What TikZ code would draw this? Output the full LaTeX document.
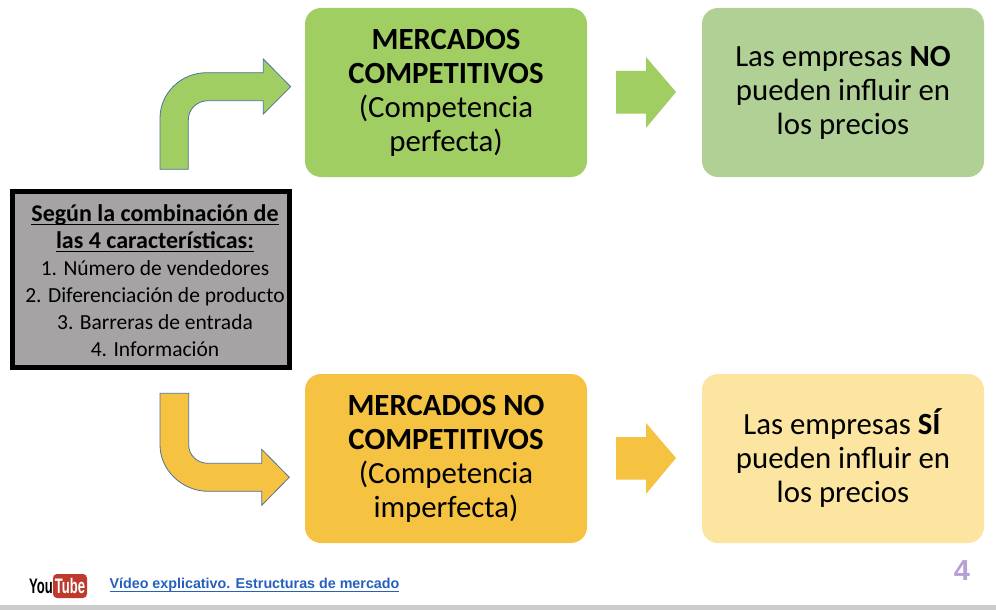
\documentclass[tikz,border=0pt]{standalone}
\usepackage{fontspec}
\setmainfont{Carlito}
\newfontfamily\linkfont{Liberation Sans}
\definecolor{greenbox}{HTML}{A1CE62}
\definecolor{palegreen}{HTML}{B0D095}
\definecolor{yellowbox}{HTML}{F5C242}
\definecolor{paleyellow}{HTML}{FBE5A0}
\definecolor{greybox}{HTML}{A5A3A4}
\definecolor{arrowedge}{HTML}{4F7299}
\definecolor{linkblue}{HTML}{2560BE}
\definecolor{tubered}{HTML}{BE3A2E}
\definecolor{pagenum}{HTML}{B9A0D4}
\def\listhead{\fontsize{24}{27}\selectfont\bfseries}
\def\lowline#1{\underline{\smash{#1}\vrule width 0pt height 0.75em depth 1.5pt}}
\tikzset{
  panel/.style={minimum width=282pt,minimum height=169pt,rounded corners=16pt,align=center,inner sep=0pt,
    font=\fontsize{30.8}{34}\selectfont},
  bentarrow/.style={draw=arrowedge,line width=0.8pt,line join=miter}
}
\begin{document}
\begin{tikzpicture}[x=1pt,y=-1pt]
  \useasboundingbox (0,0) rectangle (996,610);
  \fill[white] (0,0) rectangle (996,610);
  \fill[black!20] (0,605) rectangle (996,610);
  \draw (446,92.5) node[panel,fill=greenbox] (mercadosA) {\textbf{MERCADOS}\\\textbf{COMPETITIVOS}\\(Competencia\\perfecta)};
  \draw (843,92.5) node[panel,fill=palegreen] (efectoA) {Las empresas \textbf{NO}\\pueden influir en\\los precios};
  \draw (446,458.5) node[panel,fill=yellowbox] (mercadosB) {\textbf{MERCADOS NO}\\\textbf{COMPETITIVOS}\\(Competencia\\imperfecta)};
  \draw (843,458.5) node[panel,fill=paleyellow] (efectoB) {Las empresas \textbf{SÍ}\\pueden influir en\\los precios};
  \draw (151,279.5) node[draw=black,line width=5pt,fill=greybox,minimum width=277pt,minimum height=176pt,inner sep=0pt] (criterios) {};
  \draw (155,280) node[align=center,inner sep=0pt,font=\fontsize{21.5}{27}\selectfont] (lista) {{\listhead\lowline{Según la combinación de}}\\{\listhead\lowline{las 4 características:}}\\1. Número de vendedores\\2. Diferenciación de producto\\3. Barreras de entrada\\4. Información};
  \draw[bentarrow,fill=greenbox] (160,169.3) -- (160,118.3) .. controls (160,93) and (181,72.7) .. (206.7,72.7) -- (263.3,72.7) -- (263.3,59) -- (290.7,86.7) -- (263.3,114) -- (263.3,100.7) -- (208.3,100.7) .. controls (197,100.7) and (188.3,109) .. (188.3,120) -- (188.3,169.3) -- cycle;
  \draw[bentarrow,fill=yellowbox] (160,393.3) -- (160,445) .. controls (160,470) and (182,491.3) .. (208.3,491.3) -- (261.7,491.3) -- (261.7,505.3) -- (289.3,477.3) -- (261.7,449.3) -- (261.7,463.3) -- (208.3,463.3) .. controls (197,463.3) and (188.7,455) .. (188.7,445) -- (188.7,393.3) -- cycle;
  \fill[greenbox] (616,71) -- (646,71) -- (646,57) -- (676,92) -- (646,128) -- (646,113.5) -- (616,113.5) -- cycle;
  \fill[yellowbox] (616,437) -- (646,437) -- (646,423) -- (676,458) -- (646,494) -- (646,479.5) -- (616,479.5) -- cycle;
  \draw (41,586) node[inner sep=0pt,xscale=0.62,font=\linkfont\bfseries\fontsize{21}{21}\selectfont] (you) {You};
  \draw (70,586) node[fill=tubered,rounded corners=4pt,minimum width=34pt,minimum height=24pt,inner sep=0pt] (tubebox) {};
  \draw (70,586) node[inner sep=0pt,xscale=0.62,text=white,font=\linkfont\bfseries\fontsize{21}{21}\selectfont] (tube) {Tube};
  \draw (254.5,585) node[inner sep=0pt,text=linkblue,font=\linkfont\bfseries\fontsize{14.3}{15}\selectfont] (enlace) {\lowline{Vídeo explicativo. Estructuras de mercado}};
  \draw (962,571) node[inner sep=0pt,text=pagenum,font=\linkfont\bfseries\fontsize{29}{29}\selectfont] (pagina) {4};
\end{tikzpicture}
\end{document}
